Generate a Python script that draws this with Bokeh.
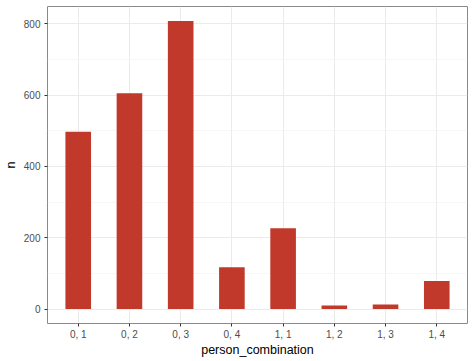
from bokeh.plotting import figure
from bokeh.models import Range1d, FixedTicker, ColumnDataSource
from bokeh.embed import file_html
from bokeh.resources import INLINE

categories = ["0, 1", "0, 2", "0, 3", "0, 4", "1, 1", "1, 2", "1, 3", "1, 4"]
counts = [497, 605, 808, 117, 227, 10, 13, 79]
y_ticks = [0, 200, 400, 600, 800]
y_minor = [100, 300, 500, 700]

xs = list(range(1, len(categories) + 1))
src = ColumnDataSource(dict(x=xs, n=counts, cat=categories))

ymax = max(counts)
pad = 0.05 * ymax
p = figure(width=474, height=361, output_backend="svg", toolbar_location=None,
           x_range=Range1d(0.4, len(categories) + 0.6),
           y_range=Range1d(-pad, ymax + pad),
           min_border_left=44, min_border_right=7, min_border_top=6, min_border_bottom=38)

p.vbar(x="x", top="n", bottom=0, width=0.5, source=src, fill_color="#C0392B", line_color=None)

p.xaxis.ticker = FixedTicker(ticks=xs)
p.xaxis.major_label_overrides = {i: c for i, c in zip(xs, categories)}
p.yaxis.ticker = FixedTicker(ticks=y_ticks, minor_ticks=y_minor)

p.xaxis.axis_label = "person_combination"
p.yaxis.axis_label = "n"

for ax in (p.xaxis, p.yaxis):
    ax.axis_line_color = None
    ax.major_tick_line_color = "#333333"
    ax.major_tick_out = 3
    ax.major_tick_in = 0
    ax.minor_tick_line_color = None
    ax.major_label_text_font = "Liberation Sans"
    ax.major_label_text_font_size = "10px"
    ax.major_label_text_color = "#4D4D4D"
    ax.axis_label_text_font = "Liberation Sans"
    ax.axis_label_text_font_size = "12.5px"
    ax.axis_label_text_font_style = "normal"
    ax.axis_label_text_color = "#000000"

p.xaxis.major_label_standoff = 2
p.xaxis.axis_label_standoff = 0
p.yaxis.major_label_standoff = 3
p.yaxis.axis_label_standoff = 3

p.xgrid.grid_line_color = "#EBEBEB"
p.xgrid.grid_line_width = 1
p.ygrid.grid_line_color = "#EBEBEB"
p.ygrid.grid_line_width = 1
p.ygrid.minor_grid_line_color = "#F2F2F2"
p.ygrid.minor_grid_line_width = 0.6

p.outline_line_color = "#8A8A8A"
p.outline_line_width = 1
p.background_fill_color = "white"
p.border_fill_color = "white"

open("out.html", "w").write(file_html(p, INLINE))
